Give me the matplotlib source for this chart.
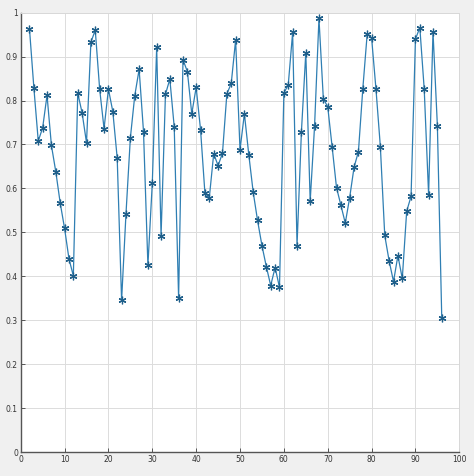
import matplotlib
matplotlib.use("Agg")
import matplotlib.pyplot as plt
import numpy as np

x_values = list(range(2, 97))
y_values = [
    0.963, 0.829, 0.708, 0.738, 0.812, 0.698, 0.638, 0.567, 0.509, 0.440,
    0.401, 0.817, 0.772, 0.704, 0.933, 0.960, 0.826, 0.736, 0.826, 0.775,
    0.669, 0.345, 0.542, 0.715, 0.811, 0.871, 0.729, 0.425, 0.612, 0.921,
    0.492, 0.814, 0.849, 0.740, 0.351, 0.893, 0.866, 0.770, 0.830, 0.734,
    0.589, 0.579, 0.679, 0.652, 0.680, 0.815, 0.839, 0.938, 0.688, 0.770,
    0.677, 0.592, 0.527, 0.470, 0.422, 0.379, 0.420, 0.375, 0.817, 0.836,
    0.955, 0.470, 0.729, 0.909, 0.571, 0.742, 0.987, 0.804, 0.786, 0.695,
    0.602, 0.562, 0.521, 0.579, 0.648, 0.684, 0.827, 0.952, 0.943, 0.826,
    0.695, 0.493, 0.435, 0.388, 0.447, 0.395, 0.548, 0.582, 0.940, 0.966,
    0.826, 0.586, 0.957, 0.743, 0.305,
]
x_ticks = [0, 10, 20, 30, 40, 50, 60, 70, 80, 90, 100]
y_ticks = [0, 0.1, 0.2, 0.3, 0.4, 0.5, 0.6, 0.7, 0.8, 0.9, 1]
y_tick_labels = ["0", "0.1", "0.2", "0.3", "0.4", "0.5", "0.6", "0.7", "0.8", "0.9", "1"]

fig = plt.figure(figsize=(4.74, 4.76), dpi=100, facecolor="#f0f0f0")
ax = fig.add_axes([0.0437, 0.0504, 0.9253, 0.9229])
ax.set_facecolor("white")
ax.plot(x_values, y_values, color="#2f7fb3", linewidth=0.9, marker=(6, 2, 0),
        markersize=5.5, markeredgewidth=0.9, markeredgecolor="#1f5f8a")
ax.set_xlim(0, 100)
ax.set_ylim(0, 1)
ax.set_xticks(x_ticks)
ax.set_xticklabels([str(t) for t in x_ticks])
ax.set_yticks(y_ticks)
ax.set_yticklabels(y_tick_labels)
ax.grid(True, color="#dcdcdc", linewidth=0.7)
ax.set_axisbelow(True)
for s in ["left", "bottom"]:
    ax.spines[s].set_color("#555555")
    ax.spines[s].set_linewidth(1.0)
for s in ["top", "right"]:
    ax.spines[s].set_color("#d8d8d8")
    ax.spines[s].set_linewidth(0.7)
ax.tick_params(direction="in", length=3, width=0.7, color="#555555",
               labelsize=5.5, labelcolor="#333333", pad=2)
fig.savefig("out.png", dpi=100, facecolor=fig.get_facecolor())
